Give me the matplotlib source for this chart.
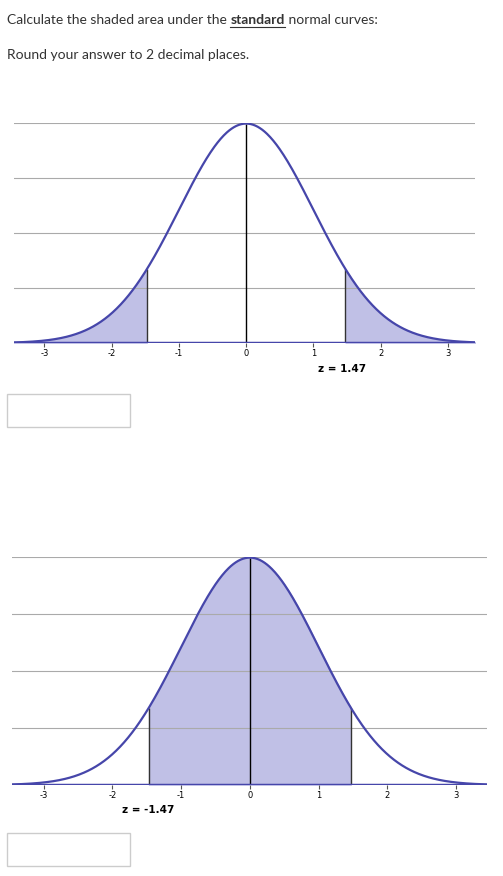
import numpy as np
import matplotlib.pyplot as plt
from matplotlib.patches import Rectangle

# chart values
z_value = 1.47
tick_vals = [-3, -2, -1, 0, 1, 2, 3]
grid_levels = [0.1, 0.2, 0.3, 0.4]
labels = ["z = 1.47", "z = -1.47"]

x = np.linspace(-3.5, 3.5, 600)
pdf = np.exp(-x ** 2 / 2) / np.sqrt(2 * np.pi)

W, H = 503, 876
fig = plt.figure(figsize=(W / 100, H / 100), dpi=100)
plt.rcParams['font.family'] = ['Lato', 'DejaVu Sans']

# title line built from pieces placed one after another
renderer = fig.canvas.get_renderer()
xpos = 7
for piece, weight in [("Calculate the shaded area under the ", 'normal'),
                      ("standard", 'bold'), (" normal curves:", 'normal')]:
    t = fig.text(xpos / W, 1 - 20 / H, piece, fontsize=10, color='#333333', va='center', fontweight=weight)
    w = t.get_window_extent(renderer).width
    if weight == 'bold':
        fig.add_artist(plt.Line2D([xpos / W, (xpos + w) / W], [1 - 27 / H, 1 - 27 / H], color='#333333', lw=0.8))
    xpos += w
fig.text(7 / W, 1 - 55 / H, "Round your answer to 2 decimal places.", fontsize=10, color='#333333', va='center')


def panel(left, bottom, width, height, xmin, xmax, tails, label, label_x, label_y):
    ax = fig.add_axes([left / W, bottom / H, width / W, height / H])
    ax.set_xlim(xmin, xmax)
    ax.set_ylim(0, 0.4)
    if tails:
        m = x <= -z_value
        ax.fill_between(x[m], pdf[m], color='#c0c0e6')
        m = x >= z_value
        ax.fill_between(x[m], pdf[m], color='#c0c0e6')
    else:
        m = (x >= -z_value) & (x <= z_value)
        ax.fill_between(x[m], pdf[m], color='#c0c0e6')
    for g in grid_levels:
        ax.axhline(g, color='#aaaaaa', lw=0.8)
    pz = np.exp(-z_value ** 2 / 2) / np.sqrt(2 * np.pi)
    ax.vlines([-z_value, z_value], 0, pz, color='#333333', lw=1)
    ax.vlines(0, 0, pdf.max(), color='black', lw=1)
    ax.plot(x, pdf, color='#4646aa', lw=1.6)
    ax.axhline(0, color='#4646aa', lw=2.5)
    for s in ax.spines.values():
        s.set_visible(False)
    ax.set_yticks([])
    ax.set_xticks(tick_vals)
    ax.set_xticklabels([str(t) for t in tick_vals], fontsize=6, fontfamily='DejaVu Sans')
    ax.tick_params(axis='x', length=3, color='#555555', pad=1)
    fig.text(label_x / W, 1 - label_y / H, label, fontsize=7.5, fontweight='bold',
             fontfamily='DejaVu Sans', ha='center', va='center')
    return ax


panel(14, 533, 461, 220, -3.45, 3.40, True, labels[0], 342, 369)
panel(12, 91, 475, 228, -3.46, 3.45, False, labels[1], 148, 810)

for y0 in (394, 833):
    fig.add_artist(Rectangle((7 / W, 1 - (y0 + 33) / H), 123 / W, 33 / H,
                             transform=fig.transFigure, fill=False, ec='#cccccc', lw=1))

fig.savefig('out.png', dpi=100)
